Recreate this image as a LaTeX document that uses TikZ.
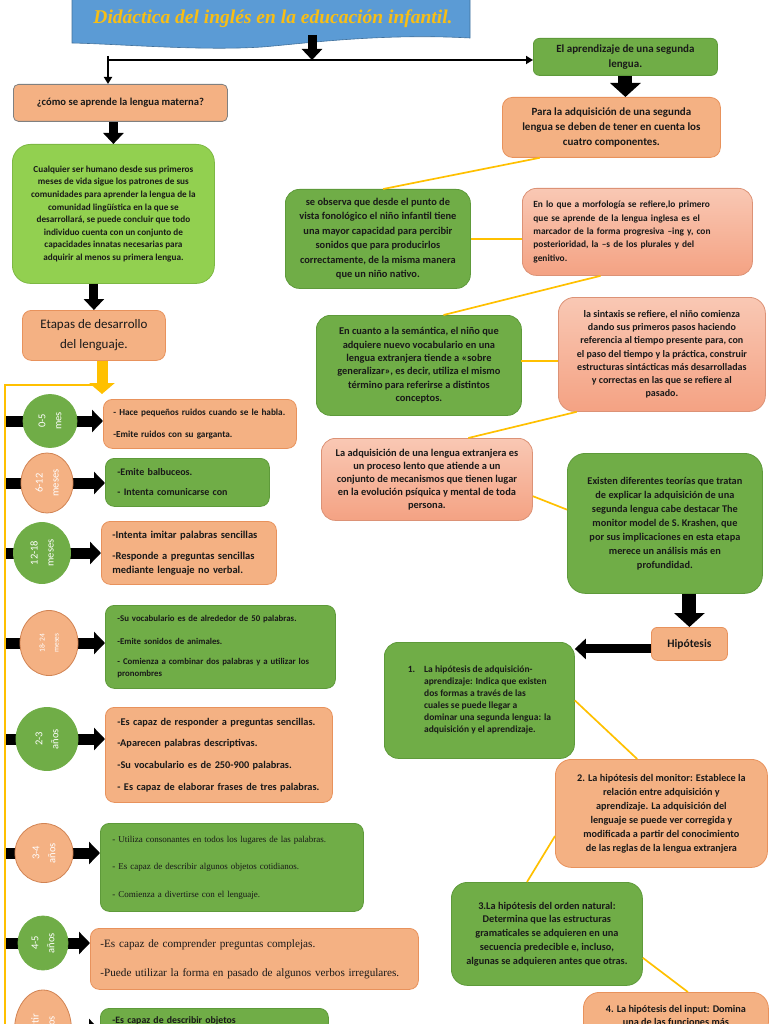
\documentclass[tikz,border=0pt]{standalone}
\usepackage{fontspec}
\setmainfont{Carlito}
\newfontfamily\titlefont{Liberation Serif}
\newfontfamily\timesfont{Liberation Serif}
\usetikzlibrary{positioning, arrows.meta, shapes.geometric, backgrounds, calc}

\definecolor{boxorange}{HTML}{F4B183}
\definecolor{boxorangeline}{HTML}{E8925C}
\definecolor{boxgreen}{HTML}{70AD47}
\definecolor{boxgreenline}{HTML}{5E9A3A}
\definecolor{limegreen}{HTML}{92D050}
\definecolor{limeline}{HTML}{7DB843}
\definecolor{salmontop}{HTML}{F9C8B4}
\definecolor{salmonbot}{HTML}{F4A283}
\definecolor{linkyellow}{HTML}{FFC000}
\definecolor{bannerblue}{HTML}{5B9BD5}
\definecolor{bannerline}{HTML}{41719C}
\definecolor{titlegold}{HTML}{F7BE16}

\tikzset{
  fs/.style 2 args={font=\bfseries\fontsize{#1}{#2}\selectfont},
  card/.style={rectangle, rounded corners=12pt, line width=0.8pt, align=center, inner sep=3pt, text=black!90, anchor=north west},
  orangecard/.style={card, fill=boxorange, draw=boxorangeline},
  greencard/.style={card, fill=boxgreen, draw=boxgreenline},
  limecard/.style={card, fill=limegreen, draw=limeline},
  salmoncard/.style={card, top color=salmontop, bottom color=salmonbot, draw=salmonbot!90!black},
  link/.style={draw=linkyellow, line width=1.7pt},
  yline/.style={draw=linkyellow, line width=1.6pt},
  bigarrow/.style={-{Triangle[width=20pt,length=11pt]}, line width=9pt, black},
  fatarrow/.style={-{Triangle[width=30pt,length=14pt]}, line width=14pt, black},
  thinarrow/.style={-{Triangle[width=8pt,length=7pt]}, line width=2.4pt, black},
  stagearrow/.style={-{Triangle[width=22pt,length=11pt]}, line width=11pt, black}
}

\begin{document}
\begin{tikzpicture}[
  x=1pt, y=-1pt,
  stage/.style={ellipse, line width=0.8pt, text=white, align=center, rotate=90, inner sep=0pt,
    font=\fontsize{10.5}{16}\selectfont},
  greenstage/.style={stage, fill=boxgreen, draw=boxgreen},
  orangestage/.style={stage, fill=boxorange, draw=boxorangeline!90!black},
  leftcard/.style={align=left, inner xsep=#1, rounded corners=9pt}
]
\useasboundingbox (0,0) rectangle (768,1024);

% Title banner
\fill[bannerblue, draw=bannerline, line width=0.6pt] (72,-3) -- (470,-3) -- (470,38)
  .. controls (380,33) and (300,44) .. (262,47) .. controls (200,51) and (120,44) .. (72,43) -- cycle;
\node[font=\titlefont\bfseries\itshape\fontsize{19.5}{21}\selectfont, text=titlegold] (title) at (273,19)
  {Didáctica del inglés en la educación infantil.};

\coordinate (hub) at (108,60);
\coordinate (bannerfoot) at (312,35);

% Lengua materna
\node[orangecard, draw=gray, rounded corners=5pt, minimum width=214pt, minimum height=37pt, fs={10.6}{13}] (materna) at (13,84)
  {¿cómo se aprende la lengua materna?};
\node[limecard, rounded corners=18pt, minimum width=202pt, minimum height=139pt, fs={9.2}{12.6}] (cualq) at (12,144)
  {Cualquier ser humano desde sus primeros\\meses de vida sigue los patrones de sus\\comunidades para aprender la lengua de la\\comunidad lingüística en la que se\\desarrollará, se puede concluir que todo\\individuo cuenta con un conjunto de\\capacidades innatas necesarias para\\adquirir al menos su primera lengua.};
\node[orangecard, rounded corners=9pt, minimum width=143pt, minimum height=50pt, font=\fontsize{13}{20}\selectfont] (etapas) at (22,310)
  {Etapas de desarrollo\\del lenguaje.};

% Segunda lengua
\node[greencard, rounded corners=6pt, minimum width=184pt, minimum height=37pt, fs={11}{15}] (aprend) at (533,38)
  {El aprendizaje de una segunda\\lengua.};
\node[orangecard, rounded corners=10pt, minimum width=218pt, minimum height=60pt, fs={11}{15}] (para) at (502,97)
  {Para la adquisición de una segunda\\lengua se deben de tener en cuenta los\\cuatro componentes.};
\node[greencard, rounded corners=14pt, minimum width=185pt, minimum height=99pt, fs={10.4}{14.5}] (fono) at (285,189)
  {se observa que desde el punto de\\vista fonológico el niño infantil tiene\\una mayor capacidad para percibir\\sonidos que para producirlos\\correctamente, de la misma manera\\que un niño nativo.};
\node[salmoncard, leftcard=11pt, text width=208pt, minimum height=87pt, rounded corners=14pt, fs={9.4}{13.3}] (morfo) at (522,188)
  {En lo que a morfología se refiere,lo primero\\que se aprende de la lengua inglesa es el\\marcador de la forma progresiva –ing y, con\\posterioridad, la –s de los plurales y del\\genitivo.};
\node[greencard, rounded corners=14pt, minimum width=205pt, minimum height=100pt, fs={10.4}{13.3}] (seman) at (316,315)
  {En cuanto a la semántica, el niño que\\adquiere nuevo vocabulario en una\\lengua extranjera tiende a «sobre\\generalizar», es decir, utiliza el mismo\\término para referirse a distintos\\conceptos.};
\node[salmoncard, rounded corners=16pt, minimum width=207pt, minimum height=114pt, fs={10}{13.2}] (sintax) at (558,297)
  {la sintaxis se refiere, el niño comienza\\dando sus primeros pasos haciendo\\referencia al tiempo presente para, con\\el paso del tiempo y la práctica, construir\\estructuras sintácticas más desarrolladas\\y correctas en las que se refiere al\\pasado.};
\node[salmoncard, rounded corners=14pt, minimum width=211pt, minimum height=82pt, fs={10.4}{13}] (proceso) at (321,438)
  {La adquisición de una lengua extranjera es\\un proceso lento que atiende a un\\conjunto de mecanismos que tienen lugar\\en la evolución psíquica y mental de toda\\persona.};
\node[greencard, rounded corners=18pt, minimum width=195pt, minimum height=140pt, fs={10.3}{14}] (teorias) at (567,453)
  {Existen diferentes teorías que tratan\\de explicar la adquisición de una\\segunda lengua cabe destacar The\\monitor model de S. Krashen, que\\por sus implicaciones en esta etapa\\merece un análisis más en\\profundidad.};

% Hipotesis
\node[orangecard, rounded corners=6pt, minimum width=76pt, minimum height=33pt, fs={11.5}{13}] (hipo) at (651,627) {Hipótesis};
\node[greencard, rounded corners=14pt, minimum width=190pt, minimum height=116pt, fs={9.5}{12}] (h1) at (384,642)
  {\begin{tabular}{@{}l@{\hspace{9pt}}l@{}}1. & La hipótesis de adquisición-\\ & aprendizaje: Indica que existen\\ & dos formas a través de las\\ & cuales se puede llegar a\\ & dominar una segunda lengua: la\\ & adquisición y el aprendizaje.\end{tabular}};
\node[orangecard, rounded corners=16pt, minimum width=212pt, minimum height=108pt, fs={10.2}{14}] (h2) at (555,759)
  {2. La hipótesis del monitor: Establece la\\relación entre adquisición y\\aprendizaje. La adquisición del\\lenguaje se puede ver corregida y\\modificada a partir del conocimiento\\de las reglas de la lengua extranjera};
\node[greencard, rounded corners=16pt, minimum width=191pt, minimum height=103pt, fs={10.3}{13.8}] (h3) at (451,882)
  {3.La hipótesis del orden natural:\\Determina que las estructuras\\gramaticales se adquieren en una\\secuencia predecible e, incluso,\\algunas se adquieren antes que otras.};
\node[orangecard, rounded corners=16pt, minimum width=185pt, minimum height=46pt, fs={10.2}{13.5}] (h4) at (583,992)
  {4. La hipótesis del input: Domina\\una de las funciones más};

% Etapas
\node[greenstage, minimum width=53pt, minimum height=54pt] (c1) at (50,421) {0-5\\mes};
\node[orangecard, leftcard=10pt, text width=173pt, minimum height=49pt, fs={9.2}{13}] (b1) at (103,399)
  {- Hace pequeños ruidos cuando se le habla.\\[9pt]-Emite ruidos con su garganta.};
\node[orangestage, minimum width=60pt, minimum height=52pt] (c2) at (47,483) {6-12\\meses};
\node[greencard, leftcard=12pt, text width=140pt, minimum height=48pt, fs={10}{13}] (b2) at (105,458)
  {-Emite balbuceos.\\[7pt]- Intenta comunicarse con};
\node[greenstage, minimum width=61pt, minimum height=57pt] (c3) at (42,553) {12-18\\meses};
\node[orangecard, leftcard=11pt, text width=153pt, minimum height=63pt, fs={10.5}{14}] (b3) at (101,521)
  {-Intenta imitar palabras sencillas\\[7pt]-Responde a preguntas sencillas\\mediante lenguaje no verbal.};
\node[orangestage, minimum width=65pt, minimum height=58pt, font=\fontsize{7.5}{14}\selectfont] (c4) at (49,643) {18- 24\\meses};
\node[greencard, leftcard=12pt, text width=206pt, minimum height=83pt, fs={8.8}{12}] (b4) at (105,605)
  {-Su vocabulario es de alrededor de 50 palabras.\\[11pt]-Emite sonidos de animales.\\[8pt]- Comienza a combinar dos palabras y a utilizar los\\pronombres};
\node[greenstage, minimum width=63pt, minimum height=62pt] (c5) at (47,739) {2-3\\años};
\node[orangecard, leftcard=12pt, text width=203pt, minimum height=95pt, fs={10.3}{21.8}] (b5) at (105,707)
  {-Es capaz de responder a preguntas sencillas.\\-Aparecen palabras descriptivas.\\-Su vocabulario es de 250-900 palabras.\\- Es capaz de elaborar frases de tres palabras.};
\node[orangestage, minimum width=59pt, minimum height=58pt] (c6) at (44,853) {3-4\\años};
\node[greencard, leftcard=12pt, text width=239pt, minimum height=88pt, font=\timesfont\fontsize{9}{27.5}\selectfont] (b6) at (100,823)
  {- Utiliza consonantes en todos los lugares de las palabras.\\- Es capaz de describir algunos objetos cotidianos.\\- Comienza a divertirse con el lenguaje.};
\node[greenstage, minimum width=54pt, minimum height=50pt] (c7) at (43,943) {4-5\\años};
\node[orangecard, leftcard=10pt, text width=308pt, minimum height=61pt, font=\timesfont\fontsize{11.2}{29}\selectfont] (b7) at (90,928)
  {-Es capaz de comprender preguntas complejas.\\-Puede utilizar la forma en pasado de algunos verbos irregulares.};
\node[orangestage, minimum width=80pt, minimum height=57pt] (c8) at (43,1030) {A partir\\5 años};
\node[greencard, leftcard=12pt, text width=204pt, minimum height=24pt, fs={9.8}{13}] (b8) at (100,1008)
  {-Es capaz de describir objetos};

% Flechas negras
\draw[bigarrow] (bannerfoot) -- (bannerfoot |- hub);
\draw[thinarrow] (hub) -- (hub -| aprend.west);
\draw[thinarrow] ([yshift=4pt]hub) -- (hub |- materna.north);
\draw[fatarrow] (aprend.south) -- (aprend.south |- para.north);
\draw[bigarrow] (cualq.north |- materna.south) -- (cualq.north);
\draw[bigarrow] (etapas.north |- cualq.south) -- (etapas.north);
\draw[fatarrow] (hipo.north |- teorias.south) -- (hipo.north);
\draw[bigarrow] ([yshift=-5pt]hipo.west) -- ([yshift=-5pt]hipo.west -| h1.east);

% Flecha amarilla y linea de etapas
\coordinate (ytip) at (102,394);
\coordinate (yl) at (5,385);
\coordinate (ylend) at (5,1030);
\draw[-{Triangle[width=25pt,length=11pt]}, line width=11pt, linkyellow] (ytip |- etapas.south) -- (ytip);
\begin{scope}[on background layer]
  \foreach \c/\b in {c1/b1,c2/b2,c3/b3,c4/b4,c5/b5,c6/b6,c7/b7,c8/b8}
    \draw[stagearrow] (yl |- \c) -- (\c -| \b.west);
  \draw[yline] (ytip |- yl) -- (yl) -- (ylend);
\end{scope}

% Conectores amarillos
\coordinate (semlink) at (521,360.5);
\foreach \a/\b in {para.203/fono.84, morfo.230/seman.64, sintax.214/proceso.45, proceso.351/teorias.172, h1.east/h2.114, h2.192/h3.111}
  \draw[link] (\a) -- (\b);
\draw[link] (fono.east) -- (fono.east -| morfo.west);
\draw[link, line width=2pt] (semlink) -- (semlink -| sintax.west);
\draw[link] (h3.346) -- ([xshift=12pt]h4.north);

\end{tikzpicture}
\end{document}
